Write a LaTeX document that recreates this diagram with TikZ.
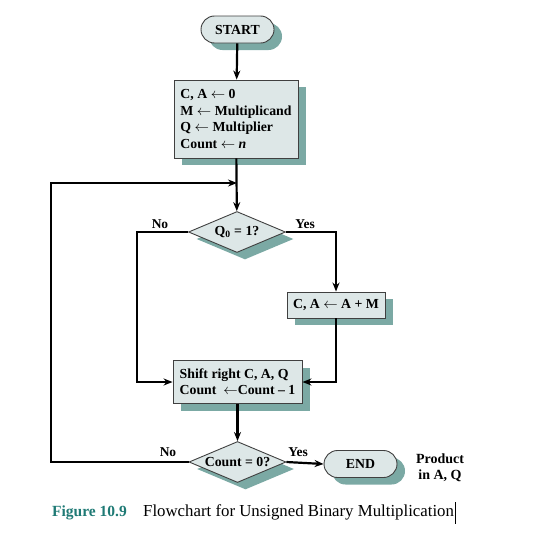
\documentclass[tikz,border=0pt]{standalone}
\usepackage{fontspec}
\setmainfont{Liberation Serif}
\usetikzlibrary{shapes.geometric,shapes.misc,shadows,arrows.meta}
\definecolor{boxfill}{HTML}{DDE7E7}
\definecolor{shadowteal}{HTML}{7BA9A4}
\definecolor{captionteal}{HTML}{1F7A75}
\tikzset{
  base/.style = {draw=black!75, fill=boxfill, line width=0.9pt, font=\fontsize{13.8}{16.4}\selectfont\bfseries,
    drop shadow={shadow xshift=8pt, shadow yshift=-7pt, fill=shadowteal, opacity=1}},
  term/.style = {base, rounded rectangle, minimum width=75pt, minimum height=27pt, inner sep=1pt},
  stepbox/.style = {base, rectangle, align=left, inner xsep=3pt, inner ysep=3pt},
  decision/.style = {base, diamond, shape aspect=2.4, inner sep=0pt, minimum width=97pt, minimum height=41pt},
  flow/.style = {draw, line width=2.2pt, -{Stealth[length=9pt,width=7pt]}},
  tag/.style = {font=\fontsize{13.5}{15}\selectfont\bfseries},
}
\begin{document}
\begin{tikzpicture}[x=1pt,y=-1pt]
  \path[use as bounding box] (0,0) rectangle (536,546);

  \node[term] (start) at (237.5,29.5) {START};
  \node[stepbox, minimum width=124pt, minimum height=78pt] (init) at (236,119)
    {C, A $\leftarrow$ 0\\M $\leftarrow$ Multiplicand\\Q $\leftarrow$ Multiplier\\Count $\leftarrow$ \textit{n}};
  \node[decision] (qzero) at (237,232) {Q\textsubscript{0} = 1?};
  \node[stepbox, minimum width=98pt, minimum height=26pt] (add) at (336,305) {C, A $\leftarrow$ A + M};
  \node[stepbox, minimum width=129pt, minimum height=43pt] (shift) at (237.5,382)
    {Shift right C, A, Q\\Count\ \ $\leftarrow$Count -- 1};
  \node[decision] (count) at (237.5,462) {Count = 0?};
  \node[term] (end) at (360.5,464) {END};
  \node[tag, align=center, font=\fontsize{14}{16}\selectfont\bfseries] (product) at (440,468) {Product\\in A, Q};

  \coordinate (join) at (237,183);
  \coordinate (loopleft) at (51,183);
  \coordinate (noleft) at (137,0);

  \path[flow] (start) -- (init);
  \path[flow] (init) -- (qzero);
  \path[flow] (qzero.west) -| (noleft |- shift.west) -- (shift.west);
  \path[flow] (qzero.east) -| (add.north);
  \path[flow] (add.south) |- (shift.east);
  \path[flow] (shift) -- (count);
  \path[flow] (count.west) -| (loopleft) -- (join);
  \path[flow] (count.east) -- (end.west);

  \node[tag] (noone) at (160,224) {No};
  \node[tag] (yesone) at (305,224) {Yes};
  \node[tag] (notwo) at (168,452) {No};
  \node[tag] (yestwo) at (298,452) {Yes};

  % caption
  \node[anchor=base west, inner sep=0pt, text=captionteal, font=\fontsize{15.5}{17}\selectfont\bfseries] (fignum) at (52,516) {Figure 10.9};
  \node[anchor=base west, inner sep=0pt, font=\fontsize{16.8}{18}\selectfont] (figtitle) at (143,516) {Flowchart for Unsigned Binary Multiplication};
  \draw[line width=0.8pt] ([xshift=1.5pt,yshift=-4pt]figtitle.south east) -- ([xshift=1.5pt,yshift=2pt]figtitle.north east);
\end{tikzpicture}
\end{document}
